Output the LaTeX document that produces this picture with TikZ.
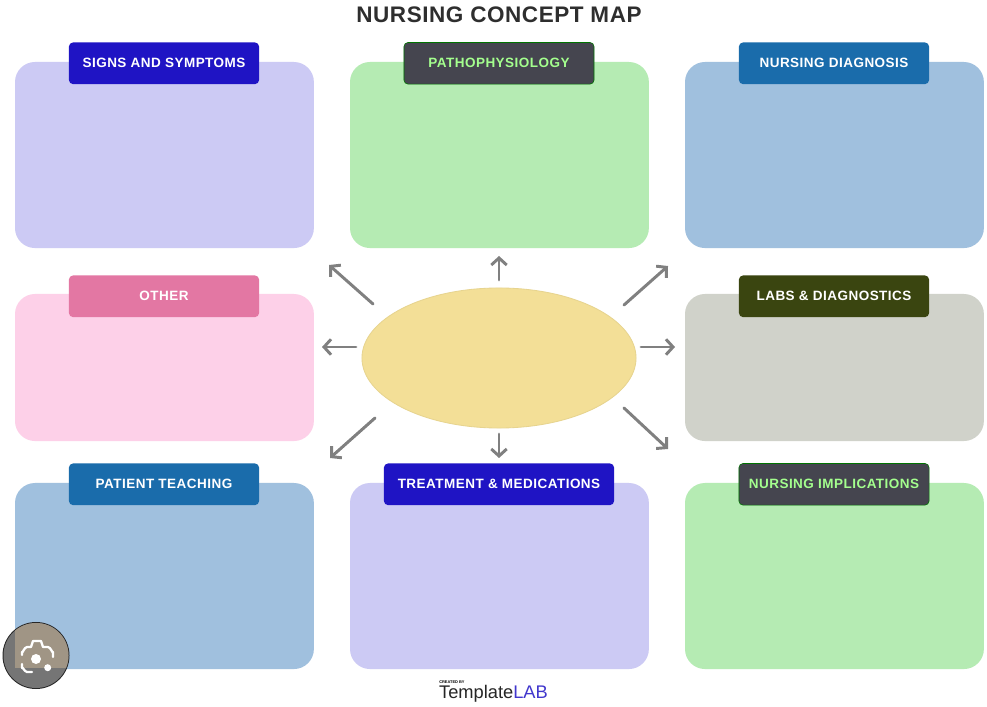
\documentclass[tikz,border=0pt]{standalone}
\usepackage{fontspec}
\setmainfont{Liberation Sans}
\newfontfamily\labelfont[LetterSpace=3.5]{Liberation Sans}
\newfontfamily\titlefont[LetterSpace=2.5]{Liberation Sans}
\usetikzlibrary{arrows.meta,shapes.geometric}
\definecolor{lilac}{HTML}{CCCAF4}
\definecolor{mint}{HTML}{B5EBB3}
\definecolor{steel}{HTML}{A0C0DE}
\definecolor{blush}{HTML}{FDD0E8}
\definecolor{stone}{HTML}{D0D2CA}
\definecolor{sand}{HTML}{F3DF97}
\definecolor{royal}{HTML}{1F14C4}
\definecolor{slate}{HTML}{45454F}
\definecolor{ocean}{HTML}{1A6CAB}
\definecolor{rose}{HTML}{E377A3}
\definecolor{olive}{HTML}{3A4510}
\definecolor{limetext}{HTML}{A4FF8E}
\definecolor{arrowgray}{HTML}{808080}
\definecolor{badgetan}{HTML}{A09585}
\definecolor{badgegray}{HTML}{757575}
\tikzset{
	panel/.style={anchor=north west,minimum width=7.47cm,rounded corners=.5cm,inner sep=0pt,outer sep=0pt},
	tab/.style={minimum height=1.04cm,rounded corners=.1cm,inner sep=0pt,text=white,font=\labelfont\bfseries\fontsize{9.6}{11}\selectfont},
	spoke/.style={draw=arrowgray,line width=2.1pt,-{Straight Barb[length=5pt,width=11pt,line width=2.1pt]}}
}
\begin{document}
\begin{tikzpicture}[line cap=round,line join=round,x=.025cm,y=-.025cm]
	\useasboundingbox (0,0) rectangle (987,707);
	\fill[white] (0,0) rectangle (987,707);
	\node (title) at (499,15) {\fontsize{16}{18}\selectfont\titlefont\bfseries\color{black!82}NURSING CONCEPT MAP};
	% panels
	\node[panel,fill=lilac,minimum height=4.65cm] (signsbox) at (15,62) {};
	\node[panel,fill=mint,minimum height=4.65cm] (pathobox) at (350,62) {};
	\node[panel,fill=steel,minimum height=4.65cm] (diagbox) at (685,62) {};
	\node[panel,fill=blush,minimum height=3.675cm] (otherbox) at (15,294) {};
	\node[panel,fill=stone,minimum height=3.675cm] (labsbox) at (685,294) {};
	\node[panel,fill=steel,minimum height=4.65cm] (teachbox) at (15,483) {};
	\node[panel,fill=lilac,minimum height=4.65cm] (treatbox) at (350,483) {};
	\node[panel,fill=mint,minimum height=4.65cm] (implbox) at (685,483) {};
	% tabs
	\node[tab,fill=royal,minimum width=4.75cm] (signs) at (164,63.3) {SIGNS AND SYMPTOMS};
	\node[tab,fill=slate,draw=green!45!black,text=limetext,minimum width=4.75cm] (patho) at (499,63.3) {PATHOPHYSIOLOGY};
	\node[tab,fill=ocean,minimum width=4.75cm] (diag) at (834,63.3) {NURSING DIAGNOSIS};
	\node[tab,fill=rose,minimum width=4.75cm] (other) at (164,296.3) {OTHER};
	\node[tab,fill=olive,minimum width=4.75cm] (labs) at (834,296.3) {LABS \& DIAGNOSTICS};
	\node[tab,fill=ocean,minimum width=4.75cm] (teach) at (164,484.3) {PATIENT TEACHING};
	\node[tab,fill=royal,minimum width=5.75cm] (treat) at (499,484.3) {TREATMENT \& MEDICATIONS};
	\node[tab,fill=slate,draw=green!45!black,text=limetext,minimum width=4.75cm] (impl) at (834,484.3) {NURSING IMPLICATIONS};
	% centre
	\node[ellipse,fill=sand,draw=sand!95!black,line width=.6pt,minimum width=6.85cm,minimum height=3.5cm,inner sep=0pt] (hub) at (499,358) {};
	% arrows
	\coordinate (a1) at (373,304);
	\coordinate (b1) at (329,265);
	\coordinate (a2) at (499,280);
	\coordinate (b2) at (499,256);
	\coordinate (a3) at (624,305);
	\coordinate (b3) at (668,266);
	\coordinate (a4) at (356,347);
	\coordinate (b4) at (322,347);
	\coordinate (a5) at (641,347);
	\coordinate (b5) at (675,347);
	\coordinate (a6) at (375,418);
	\coordinate (b6) at (330,458);
	\coordinate (a7) at (499,434);
	\coordinate (b7) at (499,458);
	\coordinate (a8) at (624,408);
	\coordinate (b8) at (668,449);
	\foreach \i in {1,...,8}
		\draw[spoke] (a\i)--(b\i);
	% logo
	\node[inner sep=0pt] (logo) at (493.5,693.5) {\fontsize{13}{15}\selectfont\color{black!85}Template\color{royal!85}LAB};
	\node[inner sep=0pt,anchor=south west] (created) at (439,684) {\fontsize{2.8}{3}\selectfont\bfseries CREATED BY};
	% camera badge
	\fill[black!85] (36,655.5) circle (33.5);
	\begin{scope}
		\clip (36,655.5) circle (32.5);
		\fill[badgegray] (0,620) rectangle (75,695);
		\fill[badgetan] (15,620) rectangle (75,668);
	\end{scope}
	\draw[white,line width=1.6pt] (22,655)--(22,652) to[out=-90,in=180] (27,647)--(31,647)--(33,641)--(41,641)--(43,647)--(48,647) to[out=0,in=-90] (53,652)--(53,657);
	\draw[white,line width=1.6pt] (22,664)--(22,668) to[out=90,in=180] (27,672)--(32,672);
	\fill[white] (36,659) circle (5);
	\fill[white] (47.7,667.7) circle (3.5);
\end{tikzpicture}
\end{document}
